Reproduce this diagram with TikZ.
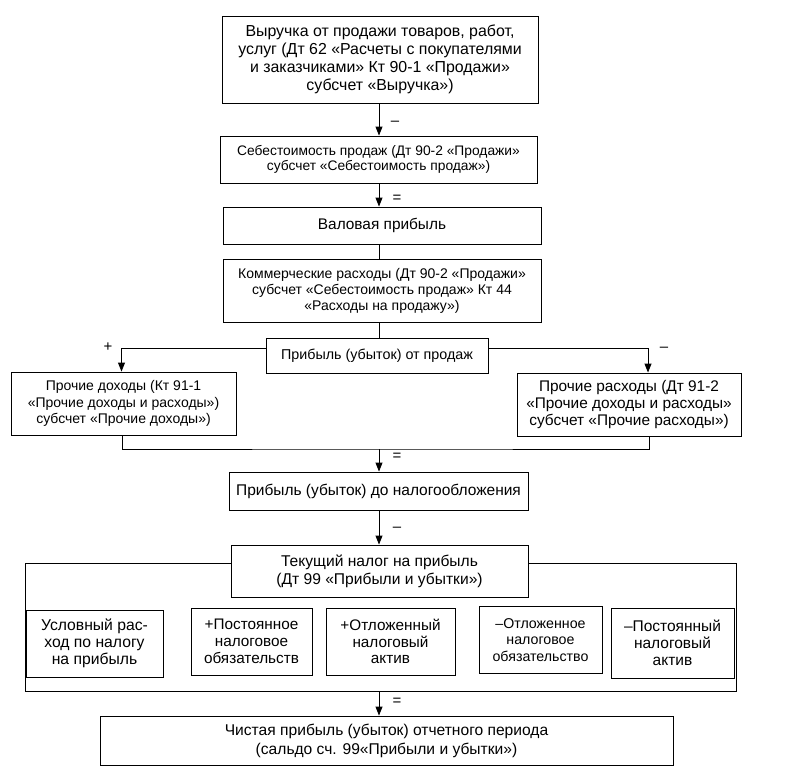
\documentclass[tikz,border=0pt]{standalone}
\usepackage{fontspec}
\setmainfont{Liberation Sans}
\usetikzlibrary{arrows.meta,calc}
\begin{document}
\begin{tikzpicture}[x=1pt,y=-1pt,
  bx/.style={draw, line width=0.9pt, inner sep=0pt, align=center},
  fs/.style 2 args={font=\fontsize{#1}{#2}\selectfont},
  ln/.style={line width=0.9pt},
  arr/.style={ln, -{Triangle[length=9pt,width=7pt]}},
  sgn/.style={inner sep=0pt, font=\fontsize{15}{18}\selectfont}]
\useasboundingbox (0,0) rectangle (802,773);
\coordinate (col) at (379,0);
% main column
\node[bx, fs={15.9}{18.2}, minimum width=316pt, minimum height=87pt] (b1) at (380,59.5) {Выручка от продажи товаров, работ,\\услуг (Дт 62 «Расчеты с покупателями\\и заказчиками» Кт 90-1 «Продажи»\\субсчет «Выручка»)};
\node[bx, fs={13.8}{15.5}, minimum width=317pt, minimum height=47pt] (b2) at (378.5,159.5) {Себестоимость продаж (Дт 90-2 «Продажи»\\субсчет «Себестоимость продаж»)};
\node[bx, fs={15.4}{18}, minimum width=318pt, minimum height=37pt] (b3) at (382,225.5) {Валовая прибыль};
\node[bx, fs={14}{16}, minimum width=318pt, minimum height=63pt] (b4) at (382,290.5) {Коммерческие расходы (Дт 90-2 «Продажи»\\субсчет «Себестоимость продаж» Кт 44\\«Расходы на продажу»)};
\node[bx, fs={14.3}{17}, minimum width=222pt, minimum height=35pt] (b5) at (377,355.5) {Прибыль (убыток) от продаж};
\node[bx, fs={14}{16.7}, minimum width=225pt, minimum height=63pt] (b6) at (123.5,403.5) {Прочие доходы (Кт 91-1\\«Прочие доходы и расходы»)\\субсчет «Прочие доходы»)};
\node[bx, fs={15.4}{17}, minimum width=224pt, minimum height=63pt] (b7) at (629,404.5) {Прочие расходы (Дт 91-2\\«Прочие доходы и расходы»\\субсчет «Прочие расходы»)};
\node[bx, fs={15.5}{18}, minimum width=299pt, minimum height=38pt] (b8) at (378.5,491) {Прибыль (убыток) до налогообложения};
\node[bx, fs={15.6}{18.3}, minimum width=297pt, minimum height=52pt] (b9) at (379.5,571) {Текущий налог на прибыль\\(Дт 99 «Прибыли и убытки»)};
% small boxes
\node[bx, fs={15.7}{17}, minimum width=137pt, minimum height=67pt] (sA) at (94.5,643.5) {Условный рас-\\ход по налогу\\на прибыль};
\node[bx, fs={15.3}{16.7}, minimum width=121pt, minimum height=67pt] (sB) at (251.5,641.5) {+Постоянное\\налоговое\\обязательств};
\node[bx, fs={15.3}{16.7}, minimum width=129pt, minimum height=67pt] (sC) at (390.5,641.5) {+Отложенный\\налоговый\\актив};
\node[bx, fs={14.2}{16.2}, minimum width=123pt, minimum height=67pt] (sD) at (540.5,640) {–Отложенное\\налоговое\\обязательство};
\node[bx, fs={15.5}{16.7}, minimum width=123pt, minimum height=70pt] (sE) at (672.5,643) {–Постоянный\\налоговый\\актив};
\node[bx, fs={15.6}{19}, minimum width=573pt, minimum height=49pt] (bF) at (386.5,740.5) {Чистая прибыль (убыток) отчетного периода\\(сальдо сч. 99«Прибыли и убытки»)};
% connectors
\draw[arr] (b1.south -| col) -- (b2.north -| col);
\draw[arr] (b2.south -| col) -- (b3.north -| col);
\draw[ln] (b3.south -| col) -- (b4.north -| col);
\draw[ln] (b4.south -| col) -- (b5.north -| col);
\draw[arr] ([yshift=7.5pt]b5.west) -| ([xshift=-2pt]b6.north);
\draw[arr] ([yshift=7.5pt]b5.east) -| ([xshift=19pt]b7.north);
\coordinate (mj) at (379,449);
\draw[ln] ([xshift=-1pt]b6.south) |- (mj) -| ([xshift=20pt]b7.south);
\draw[arr] (mj) -- (b8.north -| mj);
\draw[arr] (b8.south -| col) -- (b9.north -| col);
\coordinate (bl) at (25,691);
\coordinate (br) at (736,691);
\coordinate (mj2) at (379,691);
\draw[ln] ([yshift=8pt]b9.west) -| (bl) -- (br) |- ([yshift=8pt]b9.east);
\draw[arr] (mj2) -- (bF.north -| mj2);
% signs
\node[sgn] (s1) at (395,123) {–};
\node[sgn] (s2) at (397,199) {=};
\node[sgn] (s3) at (108,347) {+};
\node[sgn] (s4) at (664,349) {–};
\node[sgn] (s5) at (397,457) {=};
\node[sgn] (s6) at (397,529) {–};
\node[sgn] (s7) at (397,702) {=};
\end{tikzpicture}
\end{document}
